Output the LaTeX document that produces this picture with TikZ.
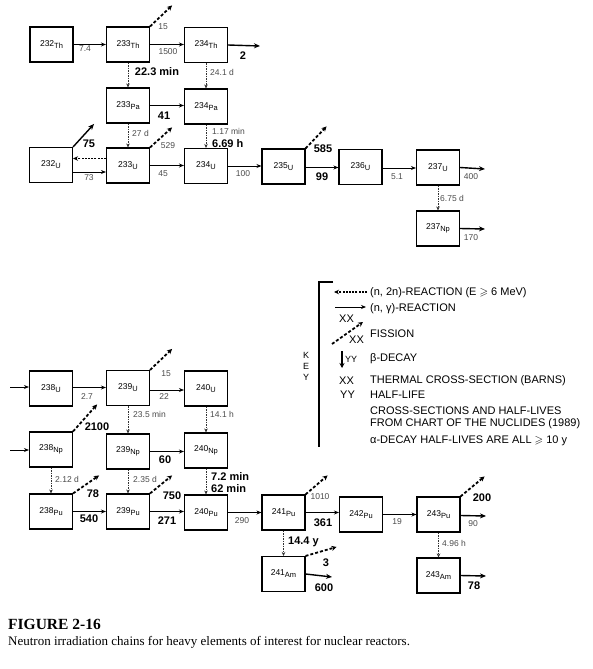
\documentclass[tikz,border=0pt]{standalone}
\usepackage{amssymb}
\usepackage{fontspec}
\setmainfont{Liberation Sans}
\newfontfamily\capfont{Liberation Serif}
\usetikzlibrary{arrows.meta,calc}
\newcommand{\nuc}[2]{#1\raisebox{-0.45ex}{\fontsize{7.5}{8}\selectfont #2}}
\begin{document}
\begin{tikzpicture}[x=1pt,y=-1pt,
  box/.style={draw, line width=1.1pt, minimum width=43pt, minimum height=35pt, inner sep=0pt, font=\fontsize{8.5}{9}\selectfont},
  ng/.style={line width=0.8pt, -{Stealth[length=5pt,width=4pt]}},
  outarr/.style={line width=1.4pt, -{Stealth[length=6pt,width=5pt]}},
  dec/.style={line width=0.6pt, dash pattern=on 1.5pt off 1pt, -{Stealth[length=4pt,width=3.5pt]}, black!80},
  fis/.style={line width=1.8pt, dash pattern=on 3pt off 2pt, -{Stealth[length=5pt,width=5pt]}},
  fissolid/.style={line width=1.4pt, -{Stealth[length=6pt,width=5pt]}},
  ntwo/.style={line width=1.8pt, dash pattern=on 2pt off 1.2pt, -{Stealth[length=5pt,width=4.5pt]}},
  lb/.style={font=\bfseries\fontsize{11}{12}\selectfont, inner sep=0pt},
  ls/.style={font=\fontsize{8.5}{9}\selectfont, text=black!70, inner sep=0pt},
  keyt/.style={font=\fontsize{11}{12}\selectfont, anchor=west, inner sep=0pt}]
\useasboundingbox (0,0) rectangle (593,669);
\fill[white] (0,0) rectangle (593,669);

% ---------- top chain ----------
\node[box] (Th232) at (51.5,44.5) {\nuc{232}{Th}};
\node[box] (Th233) at (128,44.5) {\nuc{233}{Th}};
\node[box] (Th234) at (206,45) {\nuc{234}{Th}};
\node[box] (Pa233) at (128,105.5) {\nuc{233}{Pa}};
\node[box] (Pa234) at (206,106.5) {\nuc{234}{Pa}};
\node[box] (U232) at (51,165) {\nuc{232}{U}};
\node[box] (U233) at (128,165.5) {\nuc{233}{U}};
\node[box] (U234) at (206,166) {\nuc{234}{U}};
\node[box] (U235) at (283.5,166.5) {\nuc{235}{U}};
\node[box] (U236) at (360.5,167) {\nuc{236}{U}};
\node[box] (U237) at (438,167.5) {\nuc{237}{U}};
\node[box] (Np237) at (438,228.5) {\nuc{237}{Np}};

\coordinate (eTh234) at (260,46);
\coordinate (eU237) at (485,169);
\coordinate (eNp237) at (485,229);
\coordinate (fTh233) at ([shift={(22,-21)}]Th233.north east);
\coordinate (fU232) at ([shift={(21,-23)}]U232.north east);
\coordinate (fU233) at ([shift={(22,-20)}]U233.north east);
\coordinate (fU235) at ([shift={(21,-22)}]U235.north east);

\draw[ng] (Th232.east) -- (Th232.east -| Th233.west);
\draw[ng] (Th233.east) -- (Th233.east -| Th234.west);
\draw[outarr] (Th234.east) -- (eTh234);
\draw[fis] (Th233.north east) -- (fTh233);
\draw[dec] (Th233.south) -- (Pa233.north);
\draw[dec] (Th234.south) -- (Pa234.north);
\draw[ng] (Pa233.east) -- (Pa233.east -| Pa234.west);
\draw[dec] (Pa233.south) -- (U233.north);
\draw[dec] (Pa234.south) -- (U234.north);
\draw[fissolid] (U232.north east) -- (fU232);
\draw[ntwo] ([yshift=7pt]U233.west) -- ([yshift=7pt]U233.west -| U232.east);
\draw[ng] ([yshift=-7pt]U232.east) -- ([yshift=-7pt]U232.east -| U233.west);
\draw[fis] (U233.north east) -- (fU233);
\draw[ng] (U233.east) -- (U233.east -| U234.west);
\draw[ng] (U234.east) -- (U234.east -| U235.west);
\draw[fis] (U235.north east) -- (fU235);
\draw[ng] ([yshift=-1pt]U235.east) -- ([yshift=-1pt]U235.east -| U236.west);
\draw[ng] ([yshift=-1pt]U236.east) -- ([yshift=-1pt]U236.east -| U237.west);
\draw[outarr] (U237.east) -- (eU237);
\draw[dec] (U237.south) -- (Np237.north);
\draw[outarr] (Np237.east) -- (eNp237);

\node[ls] (t1) at (85,49) {7.4};
\node[ls] (t2) at (163,27) {15};
\node[ls] (t3) at (168,52) {1500};
\node[lb] (t4) at (243,56) {2};
\node[lb] (t5) at (157,72) {22.3 min};
\node[ls, anchor=west] (t6) at (210,72) {24.1 d};
\node[lb] (t7) at (164,116) {41};
\node[ls, anchor=west] (t8) at (132,133) {27 d};
\node[ls, anchor=west] (t9) at (212,131) {1.17 min};
\node[lb, anchor=west] (t10) at (212,144) {6.69 h};
\node[lb] (t11) at (89,144) {75};
\node[ls] (t12) at (89,178) {73};
\node[ls] (t13) at (168,146) {529};
\node[ls] (t14) at (163,174) {45};
\node[ls] (t15) at (243,174) {100};
\node[lb] (t16) at (323,149) {585};
\node[lb] (t17) at (322,177) {99};
\node[ls] (t18) at (397,177) {5.1};
\node[ls] (t19) at (471,177) {400};
\node[ls, anchor=west] (t20) at (440,198) {6.75 d};
\node[ls] (t21) at (471,238) {170};

% ---------- key ----------
\coordinate (kTop) at (333,282);
\coordinate (kCorner) at (319,282);
\coordinate (kBot) at (319,447);
\draw[line width=1.4pt] (kTop) -- (kCorner) -- (kBot);
\node[font=\fontsize{9}{9}\selectfont, inner sep=0pt] (kK) at (306,355) {K};
\node[font=\fontsize{9}{9}\selectfont, inner sep=0pt] (kE) at (306,366) {E};
\node[font=\fontsize{9}{9}\selectfont, inner sep=0pt] (kY) at (306,377) {Y};
\coordinate (k1a) at (367,292);
\coordinate (k1b) at (334,292);
\draw[ntwo] (k1a) -- (k1b);
\node[keyt] (k1) at (370,293) {(n, 2n)-REACTION (E $\geqslant$ 6 MeV)};
\coordinate (k2a) at (335,307);
\coordinate (k2b) at (366,307);
\draw[ng] (k2a) -- (k2b);
\node[keyt] (k2) at (370,309) {(n, γ)-REACTION};
\node[keyt] (k3) at (339,319) {XX};
\coordinate (k4a) at (332,344);
\coordinate (k4b) at (363,322);
\draw[fis] (k4a) -- (k4b);
\node[keyt] (k4x) at (349,340) {XX};
\node[keyt] (k4) at (370,334) {FISSION};
\coordinate (k5a) at (342,351);
\coordinate (k5b) at (342,368);
\draw[line width=1.4pt, -{Stealth[length=5pt,width=5pt]}] (k5a) -- (k5b);
\node[keyt, font=\fontsize{9}{10}\selectfont] (k5y) at (345,359) {YY};
\node[keyt] (k5) at (370,359) {β-DECAY};
\node[keyt] (k6x) at (339,381) {XX};
\node[keyt] (k6) at (370,381) {THERMAL CROSS-SECTION (BARNS)};
\node[keyt] (k7y) at (340,395) {YY};
\node[keyt] (k7) at (370,395) {HALF-LIFE};
\node[keyt] (k8) at (370,411) {CROSS-SECTIONS AND HALF-LIVES};
\node[keyt] (k9) at (370,424) {FROM CHART OF THE NUCLIDES (1989)};
\node[keyt] (k10) at (370,441) {α-DECAY HALF-LIVES ARE ALL $\geqslant$ 10 y};

% ---------- bottom chain ----------
\node[box] (U238) at (51,388.5) {\nuc{238}{U}};
\node[box] (U239) at (128,388) {\nuc{239}{U}};
\node[box] (U240) at (206,388.5) {\nuc{240}{U}};
\node[box] (Np238) at (51,449.5) {\nuc{238}{Np}};
\node[box] (Np239) at (128,451.5) {\nuc{239}{Np}};
\node[box] (Np240) at (206,450.5) {\nuc{240}{Np}};
\node[box] (Pu238) at (51,511.5) {\nuc{238}{Pu}};
\node[box] (Pu239) at (128,511.5) {\nuc{239}{Pu}};
\node[box] (Pu240) at (206,512.5) {\nuc{240}{Pu}};
\node[box] (Pu241) at (283.5,512.5) {\nuc{241}{Pu}};
\node[box] (Pu242) at (361,514.5) {\nuc{242}{Pu}};
\node[box] (Pu243) at (438.5,514.5) {\nuc{243}{Pu}};
\node[box] (Am241) at (283.5,574) {\nuc{241}{Am}};
\node[box] (Am243) at (438.5,575.5) {\nuc{243}{Am}};

\coordinate (iU238) at (10,387);
\coordinate (iNp238) at (10,450);
\coordinate (ePu243) at (486,516);
\coordinate (eAm241) at (332,577);
\coordinate (eAm243) at (486,576);
\coordinate (fU239) at ([shift={(22,-21)}]U239.north east);
\coordinate (fNp238) at ([shift={(24,-27)}]Np238.north east);
\coordinate (fPu238) at ([shift={(26,-18)}]Pu238.north east);
\coordinate (fPu239) at ([shift={(22,-18)}]Pu239.north east);
\coordinate (fPu241) at ([shift={(22,-19)}]Pu241.north east);
\coordinate (fPu243) at ([shift={(24,-20)}]Pu243.north east);
\coordinate (fAm241) at ([shift={(31,-9)}]Am241.north east);

\draw[ng] (iU238) -- (iU238 -| U238.west);
\draw[ng] (iNp238) -- (iNp238 -| Np238.west);
\draw[ng] ([yshift=1pt]U238.east) -- ([yshift=1pt]U238.east -| U239.west);
\draw[ng] ([yshift=-2pt]U239.east) -- ([yshift=-2pt]U239.east -| U240.west);
\draw[fis] (U239.north east) -- (fU239);
\draw[dec] (U239.south) -- (Np239.north);
\draw[dec] (U240.south) -- (Np240.north);
\draw[fis] (Np238.north east) -- (fNp238);
\draw[ng] (Np239.east) -- (Np239.east -| Np240.west);
\draw[dec] (Np238.south) -- (Pu238.north);
\draw[dec] (Np239.south) -- (Pu239.north);
\draw[dec] (Np240.south) -- (Pu240.north);
\draw[fis] (Pu238.north east) -- (fPu238);
\draw[fis] (Pu239.north east) -- (fPu239);
\draw[ng] (Pu238.east) -- (Pu238.east -| Pu239.west);
\draw[ng] (Pu239.east) -- (Pu239.east -| Pu240.west);
\draw[ng] (Pu240.east) -- (Pu240.east -| Pu241.west);
\draw[fis] (Pu241.north east) -- (fPu241);
\draw[ng] (Pu241.east) -- (Pu241.east -| Pu242.west);
\draw[ng] (Pu242.east) -- (Pu242.east -| Pu243.west);
\draw[fis] (Pu243.north east) -- (fPu243);
\draw[outarr] ([yshift=-1pt]Pu243.east) -- (ePu243);
\draw[dec] (Pu241.south) -- (Am241.north);
\draw[fis] (Am241.north east) -- (fAm241);
\draw[outarr] (Am241.east) -- (eAm241);
\draw[dec] (Pu243.south) -- (Am243.north);
\draw[outarr] (Am243.east) -- (eAm243);

\node[ls] (b1) at (87,397) {2.7};
\node[ls] (b2) at (164,397) {22};
\node[ls] (b3) at (166,374) {15};
\node[ls, anchor=west] (b4) at (133,414) {23.5 min};
\node[ls, anchor=west] (b5) at (210,414) {14.1 h};
\node[lb] (b6) at (97,427) {2100};
\node[lb] (b7) at (165,460) {60};
\node[ls, anchor=west] (b8) at (55,479) {2.12 d};
\node[ls, anchor=west] (b9) at (133,479) {2.35 d};
\node[lb] (b10) at (93,494) {78};
\node[lb] (b11) at (172,496) {750};
\node[lb, anchor=west] (b12) at (211,477) {7.2 min};
\node[lb, anchor=west] (b13) at (211,489) {62 min};
\node[lb] (b14) at (89,519) {540};
\node[lb] (b15) at (167,521) {271};
\node[ls] (b16) at (242,521) {290};
\node[ls] (b17) at (320,497) {1010};
\node[lb] (b18) at (323,523) {361};
\node[ls] (b19) at (397,522) {19};
\node[lb] (b20) at (482,498) {200};
\node[ls] (b21) at (473,524) {90};
\node[lb, anchor=west] (b22) at (288,542) {14.4 y};
\node[lb] (b23) at (326,563) {3};
\node[lb] (b24) at (324,588) {600};
\node[ls, anchor=west] (b25) at (442,543) {4.96 h};
\node[lb] (b26) at (474,586) {78};

% ---------- caption ----------
\node[anchor=west, inner sep=0pt, font=\capfont\bfseries\fontsize{15.5}{17}\selectfont] (cap1) at (8,624) {FIGURE 2-16};
\node[anchor=west, inner sep=0pt, font=\capfont\fontsize{13}{15}\selectfont] (cap2) at (8,642) {Neutron irradiation chains for heavy elements of interest for nuclear reactors.};
\end{tikzpicture}
\end{document}
